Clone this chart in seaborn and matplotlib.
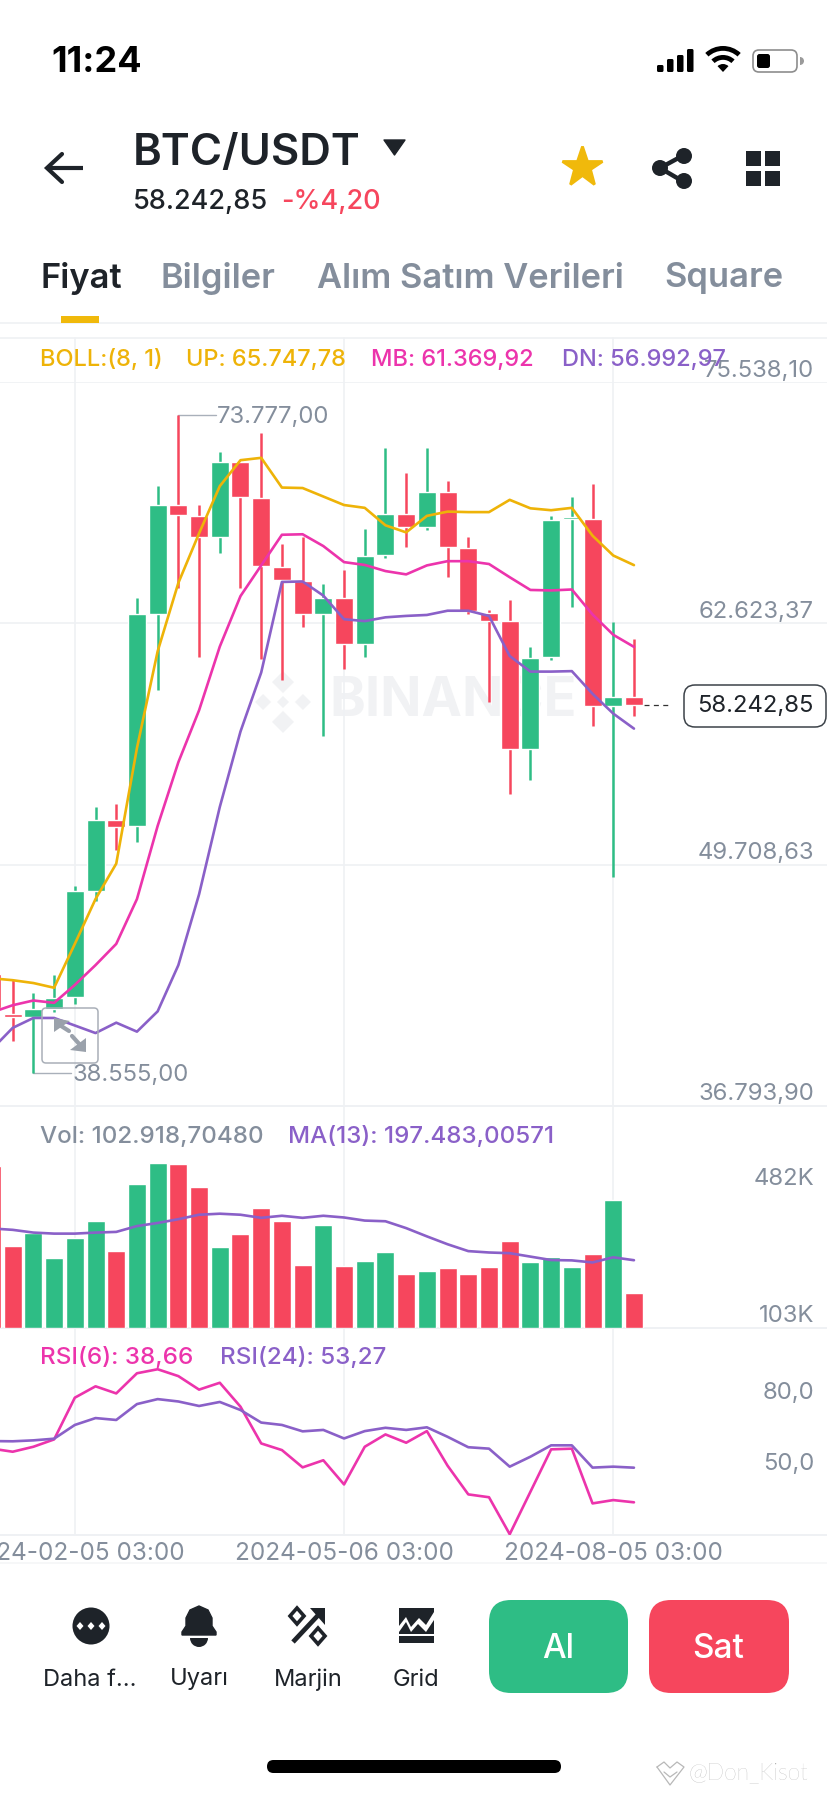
import numpy as np
import pandas as pd
import matplotlib
matplotlib.use("Agg")
import matplotlib.pyplot as plt
from matplotlib.patches import Circle, FancyBboxPatch, Polygon, Rectangle, Wedge
import seaborn as sns

W, H = 828, 1794
GREEN, RED = "#2ebd85", "#f6465d"
YELLOW, MAGENTA, PURPLE = "#eeb308", "#ec34ac", "#8a60c8"
GRAY, DARK, GRID = "#848e9c", "#1e2329", "#eff1f4"
LINE_W = 1.9
NUM_SIZE = 17.2

# candles
idx = list(range(-1, 31))
opens = [43873,41700,41548,42003,42610,48321,52111,51758,63154,68966,68385,67248,71266,69345,65656,64923,
         63154,63988,61512,66313,68486,67804,69649,66667,63180,62750,55877,60804,68208,68234,58201,58682]
closes = [42054,41574,41978,42559,48270,52111,51732,63104,68966,68436,67248,71266,69396,65707,64974,63154,
          63988,61512,66263,68486,67804,69649,66717,63281,62775,55877,60779,68158,68309,58201,58682,58243]
highs = [44100,43520,42812,43823,48574,52794,52971,63988,69977,73777,68966,71797,71266,72807,66869,67248,
         64721,65504,67703,71999,70685,71999,70230,67273,63357,63862,61385,68385,69396,70104,62725,61790]
lows = [41900,40285,38555,41801,42256,47740,50519,50898,59035,64544,60804,66389,64544,60703,59617,62422,
        56584,60198,60804,66111,66717,67627,65100,63154,58429,53501,54259,60653,63483,57140,49028,57671]

boll_up = [43621,43520,43368,43115,45465,47866,49761,55952,61133,64797,67450,69977,71367,71493,69901,69876,
           69421,68966,68815,67880,67501,68385,68613,68587,68587,69244,68790,68688,68815,67324,66263,65747.78]
boll_mb = [41801,42180,42433,42307,43267,44328,45465,47866,51783,55194,57974,61385,64089,65732,67374,67400,
           66768,65909,65757,65429,65252,65732,65959,65959,65808,65100,64418,64393,64443,63104,62017,61369.92]
boll_dn = [39830,40967,41498,41498,41094,40689,41245,40765,41852,44328,48119,52794,56837,59996,64847,64873,
           64115,62851,62750,62952,63028,63079,63306,63306,63028,60880,60046,60046,60071,58858,57797,56992.97]

volume = [472,239,276,203,263,311,225,419,482,479,410,236,275,349,313,185,
          299,181,195,222,158,165,174,156,178,253,191,206,179,217,372,102.9]
vol_ma = [290,286,278,275,275,278,280,297,306,317,330,333,330,321,327,321,
          327,322,313,311,291,267,244,224,220,218,208,198,197,191,206,197.48]

rsi6 = [61.3,60.0,62.1,65.2,82.8,87.6,84.6,93.1,94.8,91.9,86.2,89.1,79.0,63.5,60.7,53.4,
        56.4,46.2,62.1,67.3,63.8,68.7,54.1,42.0,40.8,25.2,43.1,61.0,61.3,38.2,39.6,38.66]
rsi24 = [64.5,64.4,64.8,65.5,71.3,74.2,73.4,80.1,82.2,81.2,79.3,81.0,77.6,72.3,71.3,68.6,
         69.2,65.6,68.7,70.1,69.2,70.3,66.3,61.9,61.3,53.7,57.9,62.7,62.7,53.3,53.7,53.27]

price_ticks = [36793.90, 49708.63, 62623.37, 75538.10]
price_labels = ["36.793,90", "49.708,63", "62.623,37", "75.538,10"]
date_ticks = [3, 16, 29]
date_labels = ["2024-02-05 03:00", "2024-05-06 03:00", "2024-08-05 03:00"]

df = pd.DataFrame({"i": idx, "open": opens, "close": closes, "high": highs, "low": lows, "vol": volume})
df["side"] = np.where(df["close"] >= df["open"], "up", "down")
palette = {"up": GREEN, "down": RED}

sns.set_theme(style="white")
plt.rcParams["font.family"] = ["Inter", "DejaVu Sans"]
plt.rcParams["axes.unicode_minus"] = False

fig = plt.figure(figsize=(W / 100, H / 100), dpi=100, facecolor="white")


def panel(top, bottom, z):
    a = fig.add_axes([0, 1 - bottom / H, 1, (bottom - top) / H], zorder=z)
    a.patch.set_alpha(0)
    return a


# pixel layers, for the app screen around the chart
back = panel(0, H, 0)
ui = panel(0, H, 5)
for a in (back, ui):
    a.set_xlim(0, W)
    a.set_ylim(H, 0)
    a.axis("off")

ax = panel(382.3, 1105.8, 1)
ax_vol = panel(1105.8, 1328, 1)
ax_rsi = panel(1328, 1535, 1)

XLIM = (-0.613, 39.37)

# price panel
ax.vlines(df["i"], df["low"], df["high"], color=df["side"].map(palette), lw=1.8, zorder=3)
ax.bar(df["i"], (df["close"] - df["open"]).abs(), bottom=df[["open", "close"]].min(axis=1),
       width=0.87, color=df["side"].map(palette), zorder=3)
sns.lineplot(x=idx, y=boll_up, color=YELLOW, lw=LINE_W, ax=ax, zorder=4)
sns.lineplot(x=idx, y=boll_mb, color=MAGENTA, lw=LINE_W, ax=ax, zorder=4)
sns.lineplot(x=idx, y=boll_dn, color=PURPLE, lw=LINE_W, ax=ax, zorder=4)
ax.set_ylim(price_ticks[0], price_ticks[-1])
ax.set_yticks(price_ticks)

# max / min leaders
ax.plot([8, 9.8], [73777, 73777], color="#a9b0ba", lw=1, zorder=2)
ax.annotate("73.777,00", xy=(9.87, 73777), xytext=(0, -1.5), textcoords="offset points",
            color=GRAY, fontsize=NUM_SIZE, va="center", ha="left")
ax.plot([1, 2.8], [38555, 38555], color="#a9b0ba", lw=1, zorder=2)
ax.annotate("38.555,00", xy=(2.88, 38555), xytext=(0, -1.5), textcoords="offset points",
            color=GRAY, fontsize=NUM_SIZE, va="center", ha="left")

for val, lab in zip(price_ticks, price_labels):
    ax.annotate(lab, xy=(1, val), xycoords=ax.get_yaxis_transform(), xytext=(-10, 8.4),
                textcoords="offset points", ha="right", va="center", color=GRAY, fontsize=NUM_SIZE,
                annotation_clip=False, zorder=6)

# last price
last = closes[-1]
ax.plot([30.5, 31.7], [last, last], color="#333333", lw=0.9, ls=(0, (4, 3.5)), zorder=2)
ax.annotate("58.242,85", xy=(1, last), xycoords=ax.get_yaxis_transform(), xytext=(-52, -0.5),
            textcoords="offset points", ha="center", va="center", color=DARK, fontsize=NUM_SIZE)

# volume panel
sns.barplot(data=df, x="i", y="vol", hue="side", palette=palette, native_scale=True, dodge=False,
            width=0.87, saturation=1, legend=False, ax=ax_vol, zorder=3)
sns.lineplot(x=idx, y=vol_ma, color=PURPLE, lw=LINE_W, ax=ax_vol, zorder=4)
ax_vol.set_ylim(0, 647.4)
ax_vol.set_yticks([])
for val, lab, dy in [(482, "482K", -11.5), (0, "103K", 8.9)]:
    ax_vol.annotate(lab, xy=(1, val), xycoords=ax_vol.get_yaxis_transform(), xytext=(-10, dy),
                    textcoords="offset points", ha="right", va="center", color=GRAY, fontsize=NUM_SIZE)

# rsi panel
sns.lineplot(x=idx, y=rsi6, color=MAGENTA, lw=LINE_W, ax=ax_rsi, zorder=4)
sns.lineplot(x=idx, y=rsi24, color=PURPLE, lw=LINE_W, ax=ax_rsi, zorder=4)
ax_rsi.set_ylim(24.87, 112.2)
ax_rsi.set_yticks([])
for val, lab in [(80, "80,0"), (50, "50,0")]:
    ax_rsi.annotate(lab, xy=(1, val), xycoords=ax_rsi.get_yaxis_transform(), xytext=(-10, 8.4),
                    textcoords="offset points", ha="right", va="center", color=GRAY, fontsize=NUM_SIZE)

for a in (ax, ax_vol, ax_rsi):
    a.set_xlim(*XLIM)
    a.set_xticks(date_ticks)
    a.grid(True, color=GRID, lw=1.2, zorder=0)
    a.set_axisbelow(True)
    a.set(xlabel=None, ylabel=None)
    a.tick_params(length=0, labelbottom=False, labelleft=False)
    for s in ("top", "left", "right"):
        a.spines[s].set_visible(False)
    a.spines["bottom"].set_color(GRID)
    a.spines["bottom"].set_linewidth(1.4)

ax_rsi.set_xticklabels(date_labels)
ax_rsi.tick_params(labelbottom=True, pad=5, labelsize=17.5, labelcolor=GRAY)

# chart headers
for x, s, c in [(40, "BOLL:(8, 1)", "#eeb308"), (186, "UP: 65.747,78", "#eeb308"),
                (371, "MB: 61.369,92", MAGENTA), (562, "DN: 56.992,97", PURPLE)]:
    ui.text(x, 360, s, color=c, fontsize=17, va="center", fontweight="medium")
ui.text(40, 1137, "Vol: 102.918,70480", color=GRAY, fontsize=17.4, va="center", fontweight="medium")
ui.text(288, 1137, "MA(13): 197.483,00571", color=PURPLE, fontsize=17.4, va="center", fontweight="medium")
ui.text(40, 1357.5, "RSI(6): 38,66", color=MAGENTA, fontsize=17.4, va="center", fontweight="medium")
ui.text(220, 1357.5, "RSI(24): 53,27", color=PURPLE, fontsize=17.4, va="center", fontweight="medium")

# last price box
ui.add_patch(FancyBboxPatch((684, 685), 142, 42, boxstyle="round,pad=0,rounding_size=11",
                            fc="none", ec="#3c4249", lw=1.1))

# watermark under the candles
logo_c = (283, 702)
for dx, dy, r in [(0, -19, 11), (0, 19, 11), (-19, 0, 8), (19, 0, 8), (0, 0, 6)]:
    cx, cy = logo_c[0] + dx * 1.05, logo_c[1] + dy * 1.05
    back.add_patch(Polygon([(cx - r, cy), (cx, cy - r), (cx + r, cy), (cx, cy + r)], fc="#f1f2f4", ec="none"))
back.text(453, 702, "BINANCE", color="#f1f2f4", fontsize=39, fontweight="bold", ha="center", va="center")

# chart frame lines that sit outside the panels
back.plot([0, W], [323, 323], color=GRID, lw=1.2)
back.plot([0, W], [338, 338], color=GRID, lw=1.2)
back.plot([0, W], [1563, 1563], color="#f5f6f7", lw=1.2)
for x in (75, 344, 613):
    back.plot([x, x], [338, 382], color=GRID, lw=1.2)

# status bar
ui.text(51, 63, "11:24", color="black", fontsize=26, fontweight="bold", va="center")
for x, top in zip((657, 667, 677, 687), (65, 59, 55, 49)):
    ui.add_patch(FancyBboxPatch((x, top), 6.5, 72 - top, boxstyle="round,pad=0,rounding_size=1.5", fc="black", ec="none"))
for r0, r1 in [(8, 8), (17, 4.8), (26, 4.8)]:
    ui.add_patch(Wedge((723, 72), r0, -133, -47, width=r1, fc="black", ec="none"))
ui.add_patch(FancyBboxPatch((753, 50), 44, 22, boxstyle="round,pad=0,rounding_size=6", fc="white", ec="#8d8d8d", lw=1.2))
ui.add_patch(FancyBboxPatch((757, 54), 13, 14, boxstyle="round,pad=0,rounding_size=2.5", fc="black", ec="none"))
ui.add_patch(Wedge((800, 61), 4, -90, 90, fc="#9a9a9a", ec="none"))

# title row
ui.plot([48, 83], [168, 168], color=DARK, lw=3, solid_capstyle="butt")
ui.plot([62, 47, 62], [154, 168, 182], color=DARK, lw=3, solid_joinstyle="miter")
ui.text(133, 154, "BTC/USDT", color=DARK, fontsize=31.5, fontweight="semibold", va="center")
ui.add_patch(Polygon([(384, 140), (405, 140), (394.5, 155)], fc=DARK, ec=DARK, lw=1, joinstyle="round"))
ui.text(133, 202.5, "58.242,85", color=DARK, fontsize=19.5, fontweight="medium", va="center")
ui.text(281, 202.5, "-%4,20", color=RED, fontsize=19.5, fontweight="medium", va="center")
ui.plot([582], [167], marker="*", ms=30, color="#f0b90b", mec="#f0b90b", mew=2, mfc="#f0b90b")
for a_, b_ in [((660, 168), (684, 155)), ((660, 168), (684, 182))]:
    ui.plot([a_[0], b_[0]], [a_[1], b_[1]], color=DARK, lw=3.2)
for c_ in [(684, 156), (660, 168), (684, 181)]:
    ui.add_patch(Circle(c_, 8, fc=DARK, ec="none"))
for x, y in [(746, 151), (765, 151), (746, 171), (765, 171)]:
    ui.add_patch(Rectangle((x, y), 15.5, 15.5, fc=DARK, ec="none"))

# tabs
for x, s, c in [(41, "Fiyat", DARK), (161, "Bilgiler", GRAY), (317, "Alım Satım Verileri", GRAY), (664, "Square", GRAY)]:
    ui.text(x, 278.5, s, color=c, fontsize=24.8, fontweight="semibold", va="center")
ui.add_patch(Rectangle((61, 316), 38, 7, fc="#f0b90b", ec="none"))

# expand icon on the chart
ui.add_patch(FancyBboxPatch((42, 1008), 56, 55, boxstyle="round,pad=0,rounding_size=4", fc="none", ec="#a9afb8", lw=1.1))
ui.add_patch(Polygon([(54, 1018), (70, 1021), (54, 1032)], fc="#9aa1ab", ec="none"))
ui.add_patch(Polygon([(86, 1052), (70, 1050), (86, 1038)], fc="#9aa1ab", ec="none"))
ui.plot([58, 69], [1024, 1031], color="#9aa1ab", lw=3)
ui.plot([72, 82], [1036, 1047], color="#9aa1ab", lw=3)

# bottom toolbar
ui.add_patch(Circle((91, 1626), 18.5, fc=DARK, ec="none"))
for x in (80, 91, 102):
    ui.add_patch(Polygon([(x - 3.5, 1626), (x, 1622), (x + 3.5, 1626), (x, 1630)], fc="white", ec="none"))
ui.add_patch(Polygon([(182, 1632), (186, 1626), (186, 1618), (190, 1610), (199, 1606), (208, 1610), (212, 1618),
                      (212, 1626), (216, 1632), (216, 1635), (182, 1635)], fc=DARK, ec=DARK, lw=1))
ui.add_patch(Wedge((199, 1638), 9, 0, 180, fc=DARK, ec="none"))
ui.plot([293, 323], [1642, 1610], color=DARK, lw=3.4, solid_capstyle="butt")
ui.add_patch(Polygon([(310, 1608), (325, 1608), (325, 1625)], fc=DARK, ec="none"))
for c_ in [(297, 1616), (318, 1636)]:
    ui.add_patch(Polygon([(c_[0] - 7, c_[1]), (c_[0], c_[1] - 8), (c_[0] + 7, c_[1]), (c_[0], c_[1] + 8)],
                         fc="white", ec=DARK, lw=2.6))
ui.add_patch(Polygon([(399, 1608), (434, 1608), (434, 1612), (426, 1625), (419, 1618), (411, 1627), (406, 1617),
                      (399, 1626)], fc=DARK, ec="none"))
ui.add_patch(Polygon([(399, 1632), (406, 1622), (411, 1632), (418, 1624), (426, 1632), (434, 1620), (434, 1634), (399, 1634)],
                     fc=DARK, ec="none"))
ui.add_patch(Rectangle((399, 1636.5), 35, 6.5, fc=DARK, ec="none"))
for x, s in [(90, "Daha f..."), (199, "Uyarı"), (308, "Marjin"), (416, "Grid")]:
    ui.text(x, 1679.5, s, color=DARK, fontsize=17, ha="center", va="center")
ui.add_patch(FancyBboxPatch((489, 1600), 139, 93, boxstyle="round,pad=0,rounding_size=22", fc=GREEN, ec="none"))
ui.add_patch(FancyBboxPatch((649, 1600), 140, 93, boxstyle="round,pad=0,rounding_size=22", fc=RED, ec="none"))
ui.text(558, 1649, "Al", color="white", fontsize=24, fontweight="medium", ha="center", va="center")
ui.text(718, 1649, "Sat", color="white", fontsize=24, fontweight="medium", ha="center", va="center")

# home bar and repost mark
ui.add_patch(FancyBboxPatch((267, 1760), 294, 13, boxstyle="round,pad=0,rounding_size=6.5", fc="black", ec="none"))
ui.plot([657, 664, 670, 677, 684, 670, 657], [1767, 1762, 1768, 1762, 1767, 1785, 1767], color="#b8b8b8", lw=0.9)
ui.plot([664, 670, 677], [1772, 1777, 1772], color="#b8b8b8", lw=0.9)
ui.text(689, 1773, "@Don_Kisot", color="#a6a6a6", fontsize=16.5, fontweight="light", va="center", family=["Lato", "DejaVu Sans"])

fig.savefig("out.png", dpi=100)
